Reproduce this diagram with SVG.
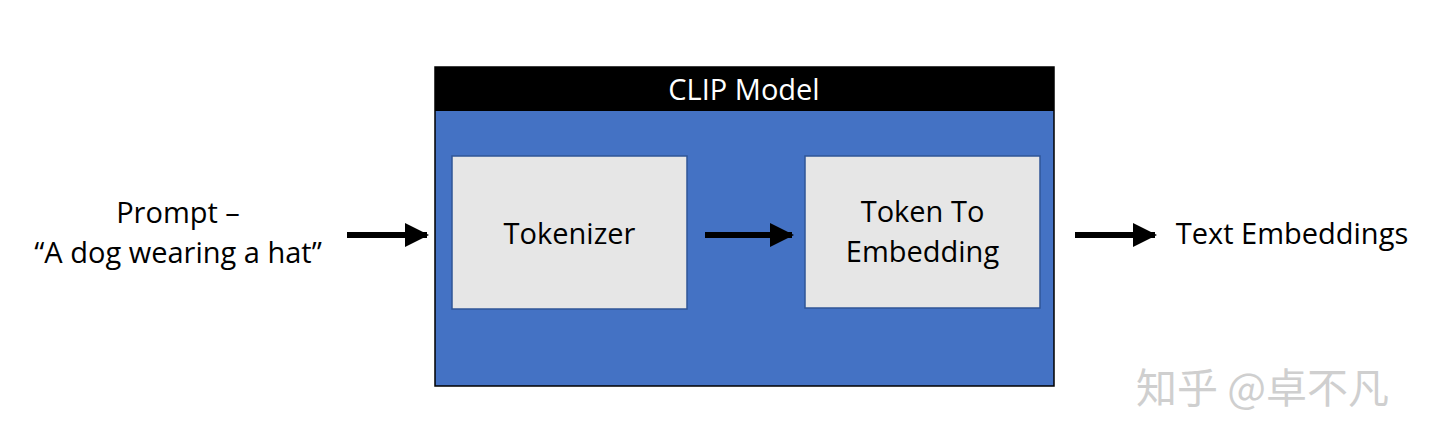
<svg xmlns="http://www.w3.org/2000/svg" width="1440" height="448" viewBox="0 0 1440 448">
<style>
text{font-family:"Open Sans","Liberation Sans",sans-serif;font-size:29px;fill:#000;text-anchor:middle}
.box{fill:#e6e6e6;stroke:#2f5597;stroke-width:1.5}
.arr{stroke:#000;stroke-width:6;fill:none}
.wm{font-family:"Noto Sans CJK SC",sans-serif;font-size:41px;fill:#cfcfcf;text-anchor:start}
</style>
<defs><marker id="ah" markerUnits="userSpaceOnUse" markerWidth="24" markerHeight="24" refX="22" refY="12" orient="auto"><path d="M0,0 L24,12 L0,24 Z" fill="#000"/></marker></defs>
<rect width="1440" height="448" fill="#fff"/>
<g id="clip">
<rect x="435" y="67" width="619" height="319" fill="#4472c4" stroke="#000" stroke-width="1.5"/>
<rect x="435" y="67" width="619" height="44" fill="#000"/>
<text x="744" y="100" style="fill:#fff">CLIP Model</text>
</g>
<g id="tokenizer"><rect class="box" x="452" y="156" width="235" height="153"/><text x="569.5" y="244">Tokenizer</text></g>
<g id="embed"><rect class="box" x="805" y="156" width="235" height="152"/><text x="922.5" y="222">Token To</text><text x="922.5" y="262">Embedding</text></g>
<g id="prompt"><text x="178" y="223">Prompt –</text><text x="178" y="263">“A dog wearing a hat”</text></g>
<g id="out"><text x="1292" y="244">Text Embeddings</text></g>
<g id="connectors">
<line class="arr" x1="347" y1="235" x2="427" y2="235" marker-end="url(#ah)"/>
<line class="arr" x1="705" y1="235" x2="792" y2="235" marker-end="url(#ah)"/>
<line class="arr" x1="1075" y1="235" x2="1155" y2="235" marker-end="url(#ah)"/>
</g>
<text class="wm" x="1136" y="403">知乎 @卓不凡</text>
</svg>
